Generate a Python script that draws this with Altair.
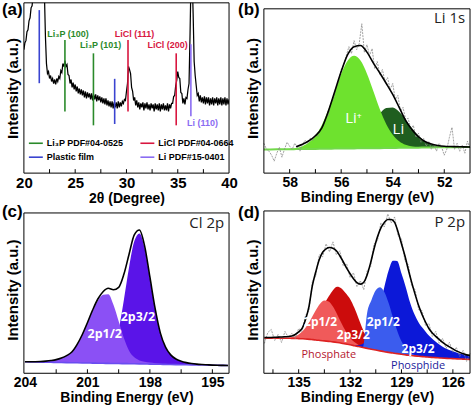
import altair as alt
import pandas as pd

BOLD = "Liberation Sans"
SANS = "Open Sans"

# ---------------- (a) XRD ----------------
xrd_two_theta = [round(20 + 0.1 * i, 1) for i in range(201)]
xrd_intensity = [
    124, 131, 133, 142, 144, 153, 156, 166, 168, 180,
    186, 195, 205, 215, 225, 230, 230, 225, 215, 200,
    180, 137, 110, 100, 102, 95, 98, 92, 95, 90,
    94, 89, 95, 92, 97, 95, 103, 101, 110, 107,
    113, 107, 109, 99, 98, 90, 94, 86, 91, 84,
    89, 82, 87, 80, 85, 79, 84, 78, 83, 76,
    82, 75, 81, 76, 80, 74, 80, 73, 79, 74,
    79, 72, 78, 73, 77, 71, 76, 70, 75, 69,
    75, 68, 73, 67, 72, 66, 72, 65, 71, 66,
    71, 65, 72, 66, 71, 67, 72, 70, 74, 73,
    82, 90, 107, 104, 100, 86, 82, 73, 76, 68,
    73, 66, 71, 64, 70, 66, 71, 63, 70, 65,
    71, 64, 69, 63, 70, 65, 69, 62, 70, 64,
    69, 63, 70, 62, 69, 64, 70, 63, 68, 63,
    70, 62, 69, 65, 70, 70, 77, 78, 88, 93,
    102, 96, 95, 81, 80, 70, 75, 69, 76, 75,
    84, 90, 140, 200, 200, 160, 112, 98, 88, 78,
    80, 72, 78, 71, 76, 70, 77, 69, 76, 70,
    76, 68, 75, 69, 76, 68, 75, 70, 76, 68,
    75, 69, 76, 68, 75, 69, 76, 68, 75, 69,
    74,
]
# legend fills column by column: column 1 = Li3P, Plastic film; column 2 = LiCl, Li
legend_names = ["Li₃P PDF#04-0525", "Plastic film", "LiCl PDF#04-0664", "Li PDF#15-0401"]
legend_colors = ["#2a8a2a", "#3a44d0", "#d8163f", "#8a6cf2"]
ref_phase = ["Plastic film", "Li₃P PDF#04-0525", "Li₃P PDF#04-0525", "Plastic film",
             "LiCl PDF#04-0664", "LiCl PDF#04-0664", "Li PDF#15-0401"]
ref_two_theta = [21.5, 24.0, 26.78, 28.85, 30.15, 34.85, 36.28]
ref_top = [163.7, 133.7, 120.3, 94.7, 133.7, 120.3, 129.3]
ref_bottom = [90.3, 62.0, 48.0, 49.3, 62.0, 48.0, 57.0]
peak_labels = ["Li₃P (100)", "Li₃P (101)", "LiCl (111)", "LiCl (200)", "Li (110)"]
peak_label_x = [24.3, 27.48, 30.78, 34.01, 37.41]
peak_label_y = [139.7, 128.7, 139.7, 128.7, 50.3]
peak_label_phase = ["Li₃P PDF#04-0525", "Li₃P PDF#04-0525", "LiCl PDF#04-0664",
                    "LiCl PDF#04-0664", "Li PDF#15-0401"]
a_ticks = [22.5, 25, 27.5, 30, 32.5, 35, 37.5]

# ---------------- (b) Li 1s ----------------
b_x = [round(59 - 0.25 * i, 2) for i in range(33)]
b_base = [23.7, 23.8, 23.9, 24.0, 24.0, 24.1, 24.2, 24.3, 24.3, 24.4, 24.5, 24.6, 24.7,
          24.7, 24.8, 24.9, 25.0, 25.1, 25.1, 25.2, 25.3, 25.4, 25.5, 25.5, 25.6, 25.7,
          25.8, 25.9, 25.9, 26.0, 26.1, 26.2, 26.3]
b_li_plus = [0, 0, 0, 0.1, 0.4, 1.2, 2.9, 6.6, 13.3, 24.0, 39.1, 57.1, 74.9, 88.1, 93.0,
             88.1, 74.9, 57.1, 39.1, 24.0, 13.3, 6.6, 2.9, 1.2, 0.4, 0.1, 0, 0, 0, 0, 0, 0, 0]
b_li = [0, 0, 0, 0, 0, 0, 0, 0, 0, 0, 0, 0.4, 1.0, 2.5, 5.5, 10.6, 17.9, 26.6, 34.8, 40.1,
        40.6, 36.2, 28.4, 19.6, 11.9, 6.4, 3.0, 1.2, 0.5, 0, 0, 0, 0]
b_env = [26.5, 29, 32.5, 37.5, 45.5, 62, 82, 102, 119, 127, 128.2, 121.5, 110.5, 100.5,
         90, 79, 66, 53, 43.5, 36.5, 31.8, 29.2, 27.8, 27, 26.7, 26.5, 26.4, 26.3]
b_raw_x = [round(59 - 0.1 * i, 1) for i in range(81)]
b_raw = [30, 24, 22, 18, 12, 20, 26, 16, 24, 31, 27, 24, 30, 26, 22, 29, 33, 30, 35, 33,
         38, 37, 44, 47, 55, 58, 70, 74, 86, 92, 104, 110, 118, 127, 120, 133, 124, 130,
         150, 121, 129, 118, 125, 105, 112, 99, 104, 92, 96, 84, 90, 74, 78, 62, 66, 54,
         55, 44, 48, 36, 40, 31, 35, 27, 32, 24, 29, 22, 30, 26, 18, 24, 36, 46, 24, 30,
         22, 28, 20, 32, 25]
b_ticks = [58, 57, 56, 55, 54, 53, 52]

# ---------------- (c) Cl 2p ----------------
c_x = [round(204 - 0.25 * i, 2) for i in range(40)]
c_base = [11.5, 11.4, 11.3, 11.2, 11.1, 11.0, 10.9, 10.8, 10.7, 10.6, 10.5, 10.4, 10.3,
          10.2, 10.1, 10.0, 9.9, 9.8, 9.8, 9.7, 9.6, 9.5, 9.4, 9.3, 9.2, 9.1, 9.0, 8.9,
          8.8, 8.7, 8.6, 8.5, 8.4, 8.3, 8.3, 8.2, 8.1, 8.0, 7.9, 7.8]
c_2p12 = [0, 0.1, 0.3, 0.6, 1.1, 1.8, 2.8, 4.5, 7.0, 10.7, 18.1, 28.0, 40.0, 52.3, 62.7,
          68.9, 69.5, 59.1, 42.5, 25.7, 13.0, 6.5, 3.5, 2.2, 1.5, 1.0, 0.6, 0.4, 0.2, 0.1,
          0, 0, 0, 0, 0, 0, 0, 0, 0, 0]
c_2p32 = [0, 0, 0, 0, 0, 0, 0, 0, 0, 0, 0.2, 0.3, 0.5, 1.0, 1.8, 3.0, 6.0, 15, 34, 64, 97,
          123, 131, 116, 86, 55, 31, 17, 9.5, 5.5, 3.5, 2.2, 1.4, 0.9, 0.5, 0.3, 0.1, 0, 0, 0]
c_env = [11.5, 11.5, 11.6, 11.8, 12.2, 12.8, 13.7, 15.3, 17.7, 21.3, 28.8, 38.7, 50.8,
         63.5, 74.6, 81.9, 85.4, 83.9, 86.3, 99.4, 119.6, 139.0, 143.9, 127.5, 96.7, 65.1,
         40.6, 26.3, 18.5, 14.3, 12.1, 10.7, 9.8, 9.2, 8.8, 8.5, 8.2, 8.0, 7.9, 7.8]
c_ticks = [202.5, 201, 199.5, 198, 196.5, 195]

# ---------------- (d) P 2p ----------------
d_x = [round(137 - 0.25 * i, 2) for i in range(49)]
d_base = [35.3, 35.3, 35.3, 35.3, 35.2, 35.2, 35.1, 35.0, 34.8, 34.6, 34.3, 33.9, 33.5,
          33.0, 32.5, 32.0, 31.5, 30.9, 30.2, 29.4, 28.6, 27.7, 26.8, 25.9, 25.0, 24.1,
          23.3, 22.5, 21.7, 21.0, 20.3, 19.7, 19.1, 18.5, 18.0, 17.5, 17.1, 16.7, 16.3,
          16.0, 15.7, 15.4, 15.1, 14.9, 14.7, 14.5, 14.3, 14.1, 14.0]
d_phosphate_2p12 = [0, 0, 0, 0, 0.1, 0.3, 0.8, 2.0, 4.2, 8.1, 14.0, 21.6, 29.8, 36.8, 40.6,
                    40.2, 35.6, 28.2, 20.0, 12.7, 7.2, 3.6, 1.7, 0.7, 0.3] + [0] * 24
d_phosphate_2p32 = [0, 0, 0, 0, 0, 0.1, 0.4, 1.2, 2.5, 4, 8, 13, 20, 28, 37, 45, 52, 56, 55,
                    51, 46, 38, 28, 18, 10, 6, 4, 2.7, 1.8, 1.2, 0.8, 0.6, 0.4, 0.3, 0.2,
                    0.15, 0.1] + [0] * 12
d_phosphide_2p12 = [0] * 24 + [36, 49.6, 60, 64, 60, 49.6, 36, 23.1, 13, 6.4, 2.8, 1.1,
                               0.4, 0.1] + [0] * 11
d_phosphide_2p32 = [0] * 21 + [0.5, 1.5, 3.8, 8.4, 16.6, 29.2, 46.1, 65.0, 82.1, 92.8, 93,
                               81, 68, 53, 42, 34, 28.5, 23.5, 19.5, 16, 13, 10.5, 8.8,
                               7.3, 6, 5, 4.2, 3.5]
d_fine_x = [round(137 - 0.2 * i, 1) for i in range(61)]
d_env = [36, 36, 36, 36.2, 36.3, 36.5, 36.7, 36.9, 37.5, 39, 41.5, 45, 54, 67, 88, 102,
         114, 121.5, 125, 126.3, 125.5, 123, 118, 112, 105.5, 100, 95, 91, 89.5, 91.5, 99,
         111, 125, 137, 146, 151.5, 154.5, 154.5, 151.5, 142, 130, 118, 104, 91, 79, 68,
         59, 51.5, 45, 40.5, 37, 34, 31, 28.5, 26.5, 24.5, 22.5, 21, 19.5, 18.5, 18]
d_raw = [30, 41, 44, 33, 39, 31, 42, 36, 40, 35, 45, 42, 58, 63, 92, 98, 119, 117, 130,
         122, 132, 119, 123, 108, 110, 96, 101, 87, 93, 84, 103, 107, 130, 133, 151, 147,
         160, 151, 157, 138, 135, 113, 109, 87, 84, 64, 63, 48, 50, 37, 42, 30, 35, 25, 31,
         21, 26, 17, 23, 12, 20]
d_ticks = [136.5, 135, 133.5, 132, 130.5, 129, 127.5, 126]

# ---------------- helpers ----------------
ONE = alt.Data(values=[{"k": 0}])
W_L, W_R = 206, 207
H1, H2 = 171, 168


def axes(title_x, values, label_size):
    xa = alt.Axis(title=title_x, values=values, format="d", grid=False, ticks=False,
                  domain=False, labelFlush=False, labelOverlap=False, labelFont=BOLD,
                  labelFontWeight="bold", labelFontSize=label_size, labelColor="black",
                  labelPadding=2, titleFont=BOLD, titleFontWeight="bold", titleFontSize=14,
                  titleColor="black", titlePadding=1)
    ya = alt.Axis(title="Intensity (a.u.)", labels=False, ticks=False, domain=False,
                  grid=False, titleFont=BOLD, titleFontWeight="bold", titleFontSize=15,
                  titleColor="black", titlePadding=3)
    return xa, ya


def encoders(xdom, ydom, xtitle, xvalues, label_size):
    xs = alt.Scale(domain=xdom, nice=False, zero=False)
    ys = alt.Scale(domain=ydom, nice=False, zero=False)
    xa, ya = axes(xtitle, xvalues, label_size)

    def X(f):
        return alt.X(f, type="quantitative", scale=xs, axis=xa)

    def Y(f):
        return alt.Y(f, type="quantitative", scale=ys, axis=ya)
    return X, Y


def tick_layer(vals, X, H):
    return alt.Chart(pd.DataFrame({"x": vals})).mark_rule(color="black", strokeWidth=1).encode(
        x=X("x"), y=alt.value(H), y2=alt.value(H - 4))


def panel(layers, W, H, frame_top, tag_text, tag_dx, tag_dy, title=None, title_y=16):
    fr = alt.Chart(ONE).mark_rect(fillOpacity=0, stroke="black", strokeWidth=1).encode(
        x=alt.value(0), x2=alt.value(W), y=alt.value(frame_top), y2=alt.value(H))
    tg = alt.Chart(ONE).mark_text(text=tag_text, align="left", baseline="top", font=BOLD,
                                  fontWeight="bold", fontSize=17, color="black").encode(
        x=alt.value(tag_dx), y=alt.value(tag_dy))
    extra = [fr, tg]
    if title:
        extra.append(alt.Chart(ONE).mark_text(text=title, align="right", baseline="middle",
                                              font=SANS, fontSize=15, color="#222").encode(
            x=alt.value(W - 5), y=alt.value(title_y)))
    return alt.layer(*layers, *extra).properties(width=W, height=H)


def text_layer(labels, xs, ys, X, Y, color, size, weight="bold", font=SANS):
    df = pd.DataFrame({"x": xs, "y": ys, "label": labels})
    return alt.Chart(df).mark_text(font=font, fontWeight=weight, fontSize=size,
                                   color=color).encode(x=X("x"), y=Y("y"), text="label:N")


def area_layer(xs, base, heights, X, Y, color):
    df = pd.DataFrame({"x": xs, "base": base, "h": heights})
    df["top"] = df["base"] + df["h"]
    return alt.Chart(df).mark_area(color=color, interpolate="monotone", opacity=1).encode(
        x=X("x"), y=Y("top"), y2="base")


def line_layer(xs, ys, X, Y, color, width, dash=None, interp="monotone"):
    df = pd.DataFrame({"x": xs, "y": ys})
    kw = dict(color=color, strokeWidth=width, interpolate=interp)
    if dash:
        kw["strokeDash"] = dash
    return alt.Chart(df).mark_line(**kw).encode(x=X("x"), y=Y("y"))


# ---------------- panel (a) ----------------
XA, YA = encoders([20, 40], [0, 171], "2θ (Degree)", [20, 25, 30, 35, 40], 15)
xrd_df = pd.DataFrame({"x": xrd_two_theta, "y": xrd_intensity})
a_line = alt.Chart(xrd_df).mark_line(color="black", strokeWidth=1.25, clip=True).encode(
    x=XA("x"), y=YA("y"))
ref_df = pd.DataFrame({"x": ref_two_theta, "top": ref_top, "bottom": ref_bottom,
                       "phase": ref_phase})
a_refs = alt.Chart(ref_df).mark_rule(strokeWidth=1.6).encode(
    x=XA("x"), y=YA("top"), y2="bottom",
    color=alt.Color("phase:N", scale=alt.Scale(domain=legend_names, range=legend_colors),
                    legend=alt.Legend(title=None, orient="none", legendX=4, legendY=133,
                                      columns=2, symbolType="stroke", symbolSize=196,
                                      symbolStrokeWidth=1.6, labelFont=BOLD,
                                      labelFontWeight="bold", labelFontSize=9,
                                      labelColor="black", labelOffset=3, columnPadding=13,
                                      rowPadding=1, padding=0)))
a_text = []
for col, name in zip(legend_colors, legend_names):
    idx = [i for i, p in enumerate(peak_label_phase) if p == name]
    if idx:
        a_text.append(text_layer([peak_labels[i] for i in idx], [peak_label_x[i] for i in idx],
                                 [peak_label_y[i] for i in idx], XA, YA, col, 9, font=BOLD))
panel_a = panel([a_line, a_refs, *a_text, tick_layer(a_ticks, XA, H1)], W_L, H1, 0, "(a)", -22, -1)

# ---------------- panel (b) ----------------
XB, YB = encoders([59, 51], [0, 171], "Binding Energy (eV)", [58, 56, 54, 52], 14)
b_layers = [
    area_layer(b_x, b_base, b_li, XB, YB, "#1f5e1f"),
    area_layer(b_x, b_base, b_li_plus, XB, YB, "#6ee22e"),
    line_layer(b_x, b_base, XB, YB, "#72d94a", 2),
    line_layer(b_raw_x, b_raw, XB, YB, "#8a8a8a", 0.8, dash=[2, 1], interp="linear"),
    line_layer(b_x[5:], b_env, XB, YB, "black", 1.6),
    text_layer(["Li⁺"], [55.52], [55.3], XB, YB, "white", 15, weight="normal"),
    text_layer(["Li"], [53.78], [44.7], XB, YB, "white", 15, weight="normal"),
    tick_layer(b_ticks, XB, H1),
]
panel_b = panel(b_layers, W_R, H1, 6, "(b)", -26, -1, title="Li 1s", title_y=15)

# ---------------- panel (c) ----------------
XC, YC = encoders([204.05, 194.2], [0, 168], "Binding Energy (eV)", [204, 201, 198, 195], 14)
c_layers = [
    area_layer(c_x, c_base, c_2p32, XC, YC, "#5a14e8"),
    area_layer(c_x, c_base, c_2p12, XC, YC, "#8b50f5"),
    line_layer(c_x, c_base, XC, YC, "#6a4cf0", 1.6),
    line_layer(c_x, c_env, XC, YC, "black", 1.6),
    text_layer(["2p1/2"], [200.17], [39.7], XC, YC, "white", 12.5),
    text_layer(["2p3/2"], [198.58], [56.3], XC, YC, "white", 12.5),
    tick_layer(c_ticks, XC, H2),
]
panel_c = panel(c_layers, W_L, H2, 7, "(c)", -22, -2, title="Cl 2p", title_y=17)

# ---------------- panel (d) ----------------
XD, YD = encoders([137.03, 125.0], [0, 168], "Binding Energy (eV)", [135, 132, 129, 126], 14)
d_layers = [
    area_layer(d_x, d_base, d_phosphate_2p32, XD, YD, "#cc0c0c"),
    area_layer(d_x, d_base, d_phosphate_2p12, XD, YD, "#f05a5a"),
    area_layer(d_x, d_base, d_phosphide_2p32, XD, YD, "#0c18d8"),
    area_layer(d_x, d_base, d_phosphide_2p12, XD, YD, "#3b5cee"),
    line_layer(d_x, d_base, XD, YD, "#dd2222", 1.6),
    line_layer(d_fine_x, d_raw, XD, YD, "#8a8a8a", 0.8, dash=[2, 1], interp="linear"),
    line_layer(d_fine_x, d_env, XD, YD, "black", 1.6),
    text_layer(["2p1/2"], [133.72], [51.3], XD, YD, "white", 12),
    text_layer(["2p3/2"], [131.81], [38], XD, YD, "white", 12),
    text_layer(["2p1/2"], [130.06], [51.3], XD, YD, "white", 12),
    text_layer(["2p3/2"], [128.03], [24.7], XD, YD, "white", 12),
    text_layer(["Phosphate"], [133.24], [18], XD, YD, "#b5172f", 11, weight="normal"),
    text_layer(["Phosphide"], [128.03], [7], XD, YD, "#1c1c9c", 11, weight="normal"),
    tick_layer(d_ticks, XD, H2),
]
panel_d = panel(d_layers, W_R, H2, 5, "(d)", -26, -1, title="P 2p", title_y=16)

chart = alt.concat(panel_a, panel_b, panel_c, panel_d, columns=2,
                   spacing={"row": 33, "column": 35}, bounds="flush").properties(
    padding={"left": 2, "top": 0, "right": 0, "bottom": 0},
    background="white",
).configure_view(stroke=None)

chart.save("out.html", embed_options={"renderer": "svg", "actions": False})
